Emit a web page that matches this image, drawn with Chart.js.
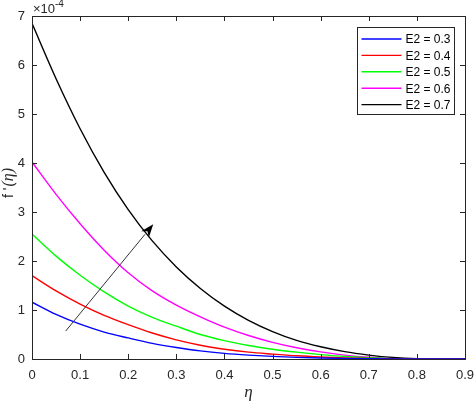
<!DOCTYPE html>
<html>
<head>
<meta charset="utf-8">
<script src="https://cdn.jsdelivr.net/npm/chart.js@4.4.1/dist/chart.umd.min.js"></script>
<style>
  html, body { margin: 0; padding: 0; background: #fff; }
  #wrap { width: 474px; height: 402px; }
</style>
</head>
<body>
<div id="wrap"><canvas id="grafico" width="474" height="402"></canvas></div>
<script>
// valores (eje y en unidades de 1e-4)
const eta = [0, 0.05, 0.1, 0.15, 0.2, 0.25, 0.3, 0.35, 0.4, 0.45, 0.5, 0.55, 0.6, 0.65, 0.7, 0.75, 0.8, 0.85, 0.9];
const serieE203 = [1.16, 0.91, 0.71, 0.55, 0.43, 0.32, 0.235, 0.165, 0.115, 0.08, 0.053, 0.034, 0.02, 0.011, 0.005, 0.002, 0, 0, 0];
const serieE204 = [1.70, 1.39, 1.12, 0.89, 0.70, 0.53, 0.39, 0.28, 0.20, 0.14, 0.10, 0.065, 0.04, 0.022, 0.01, 0.003, 0, 0, 0];
const serieE205 = [2.55, 2.10, 1.71, 1.37, 1.08, 0.85, 0.67, 0.50, 0.375, 0.275, 0.20, 0.14, 0.09, 0.05, 0.025, 0.008, 0.001, 0, 0];
const serieE206 = [4.02, 3.36, 2.76, 2.22, 1.76, 1.39, 1.10, 0.86, 0.65, 0.48, 0.34, 0.23, 0.145, 0.08, 0.035, 0.007, 0, 0, 0];
const serieE207 = [6.85, 5.72, 4.70, 3.81, 3.05, 2.41, 1.88, 1.44, 1.08, 0.79, 0.56, 0.38, 0.25, 0.15, 0.08, 0.03, 0.005, 0, 0];
const etiquetas = ["E2 = 0.3", "E2 = 0.4", "E2 = 0.5", "E2 = 0.6", "E2 = 0.7"];
const ticksX = [0, 0.1, 0.2, 0.3, 0.4, 0.5, 0.6, 0.7, 0.8, 0.9];
const ticksY = [0, 1, 2, 3, 4, 5, 6, 7];
// flecha: desde (eta, f') hasta (eta, f')
const flechaDesde = [0.07, 0.57];
const flechaHasta = [0.252, 2.75];

const colores = ["#0000ff", "#ff0000", "#00ff00", "#ff00ff", "#000000"];
const series = [serieE203, serieE204, serieE205, serieE206, serieE207];
const ejeColor = "#262626";
const fuente = "Liberation Sans, Arial, Helvetica, sans-serif";
const fuenteTex = "Liberation Serif, Times New Roman, serif";

const datasets = series.map((valores, i) => ({
  label: etiquetas[i],
  data: valores.map((v, k) => ({ x: eta[k], y: v })),
  borderColor: colores[i],
  backgroundColor: colores[i],
  borderWidth: 1.4,
  pointRadius: 0,
  fill: false,
  cubicInterpolationMode: "monotone"
}));

const marcoPlugin = {
  id: "marco",
  afterDatasetsDraw(chart) {
    const { ctx, chartArea: a, scales } = chart;
    const sx = scales.x, sy = scales.y;
    ctx.save();

    // flecha
    const x0 = sx.getPixelForValue(flechaDesde[0]), y0 = sy.getPixelForValue(flechaDesde[1]);
    const x1 = sx.getPixelForValue(flechaHasta[0]), y1 = sy.getPixelForValue(flechaHasta[1]);
    const ang = Math.atan2(y1 - y0, x1 - x0);
    const largo = 13, ancho = 5;
    const bx = x1 - largo * Math.cos(ang), by = y1 - largo * Math.sin(ang);
    ctx.strokeStyle = "#333";
    ctx.lineWidth = 1;
    ctx.beginPath();
    ctx.moveTo(x0, y0);
    ctx.lineTo(bx, by);
    ctx.stroke();
    ctx.fillStyle = "#000";
    ctx.beginPath();
    ctx.moveTo(x1, y1);
    ctx.lineTo(bx + ancho * Math.sin(ang), by - ancho * Math.cos(ang));
    ctx.lineTo(x1 - 0.7 * largo * Math.cos(ang), y1 - 0.7 * largo * Math.sin(ang));
    ctx.lineTo(bx - ancho * Math.sin(ang), by + ancho * Math.cos(ang));
    ctx.closePath();
    ctx.fill();

    // caja y marcas hacia adentro
    ctx.strokeStyle = ejeColor;
    ctx.lineWidth = 1;
    ctx.strokeRect(Math.round(a.left) + 0.5, Math.round(a.top) + 0.5, Math.round(a.width), Math.round(a.height));
    ctx.beginPath();
    ticksX.forEach((t) => {
      const px = Math.round(sx.getPixelForValue(t)) + 0.5;
      ctx.moveTo(px, a.bottom); ctx.lineTo(px, a.bottom - 5);
      ctx.moveTo(px, a.top); ctx.lineTo(px, a.top + 5);
    });
    ticksY.forEach((t) => {
      const py = Math.round(sy.getPixelForValue(t)) + 0.5;
      ctx.moveTo(a.left, py); ctx.lineTo(a.left + 5, py);
      ctx.moveTo(a.right, py); ctx.lineTo(a.right - 5, py);
    });
    ctx.stroke();

    // leyenda
    const lw = 97, lh = 87;
    const lx = Math.round(a.right - 11 - lw) + 0.5, ly = Math.round(a.top + 11) + 0.5;
    ctx.fillStyle = "#fff";
    ctx.fillRect(lx, ly, lw, lh);
    ctx.strokeStyle = ejeColor;
    ctx.strokeRect(lx, ly, lw, lh);
    ctx.font = "12px " + fuente;
    ctx.textBaseline = "middle";
    ctx.textAlign = "left";
    chart.data.datasets.forEach((ds, i) => {
      const yy = ly + 11.5 + i * 16.4;
      ctx.strokeStyle = ds.borderColor;
      ctx.lineWidth = 1.4;
      ctx.beginPath();
      ctx.moveTo(lx + 4, yy); ctx.lineTo(lx + 44, yy);
      ctx.stroke();
      ctx.fillStyle = "#000";
      ctx.fillText(ds.label, lx + 48, yy + 1);
    });

    // factor de escala
    ctx.fillStyle = ejeColor;
    ctx.textBaseline = "alphabetic";
    ctx.font = "13px " + fuente;
    ctx.fillText("\u00d710", a.left + 1, a.top - 3);
    ctx.font = "10px " + fuente;
    ctx.fillText("-4", a.left + 23, a.top - 9);

    // titulos de ejes
    ctx.textBaseline = "middle";
    ctx.textAlign = "center";
    ctx.font = "italic 17px " + fuenteTex;
    ctx.fillText("\u03b7", (a.left + a.right) / 2, 393);

    ctx.translate(9, (a.top + a.bottom) / 2 - 4);
    ctx.rotate(-Math.PI / 2);
    ctx.textAlign = "left";
    ctx.font = "14px " + fuente;
    const p1 = "f '";
    const w1 = ctx.measureText(p1).width;
    ctx.font = "italic 16px " + fuenteTex;
    const p2 = "(\u03b7)";
    const w2 = ctx.measureText(p2).width;
    const inicio = -(w1 + w2) / 2;
    ctx.font = "14px " + fuente;
    ctx.fillText(p1, inicio, 0);
    ctx.font = "italic 16px " + fuenteTex;
    ctx.fillText(p2, inicio + w1 + 1, 0);
    ctx.restore();
  }
};

function init() {
  new Chart(document.getElementById("grafico"), {
    type: "line",
    data: { datasets },
    options: {
      responsive: false,
      animation: false,
      layout: { padding: { top: 16, right: 9, left: 0, bottom: 0 } },
      plugins: { legend: { display: false }, tooltip: { enabled: false } },
      scales: {
        x: {
          type: "linear",
          min: 0,
          max: 0.9,
          afterBuildTicks: (s) => { s.ticks = ticksX.map((v) => ({ value: v })); },
          afterFit: (s) => { s.height = 43; s.paddingRight = 0; s.paddingLeft = 0; },
          grid: { display: false, drawTicks: false },
          border: { display: false },
          ticks: {
            color: ejeColor,
            font: { family: fuente, size: 13 },
            padding: 9,
            maxRotation: 0,
            autoSkip: false,
            callback: (v) => (v === 0 ? "0" : Number(v).toFixed(1))
          }
        },
        y: {
          min: 0,
          max: 7,
          afterBuildTicks: (s) => { s.ticks = ticksY.map((v) => ({ value: v })); },
          afterFit: (s) => { s.width = 32; s.paddingTop = 0; s.paddingBottom = 0; },
          grid: { display: false, drawTicks: false },
          border: { display: false },
          ticks: {
            color: ejeColor,
            font: { family: fuente, size: 13 },
            padding: 7,
            autoSkip: false,
            callback: (v) => String(v)
          }
        }
      }
    },
    plugins: [marcoPlugin]
  });
}

if (document.readyState === "loading") {
  document.addEventListener("DOMContentLoaded", init);
} else {
  init();
}
</script>
</body>
</html>
